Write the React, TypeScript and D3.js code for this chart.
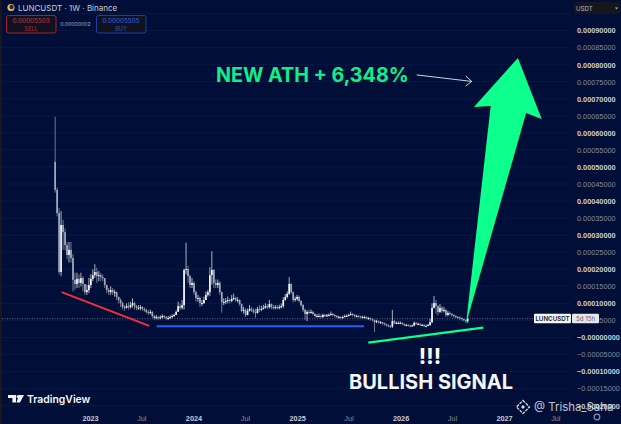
import { useEffect, useRef } from 'react'
import * as d3 from 'd3'

// all prices are in units of 0.00001 USDT
const firstWeek = '2022-08-31'
const firstOpen = 51.5

const closes = [
  43.3, 36.5, 19.2, 33.0, 30.9, 27.1, 24.2, 25.7, 23.3, 16.9,
  15.7, 17.2, 16.0, 17.4, 15.7, 13.3, 13.9, 15.4, 17.2, 18.3,
  19.2, 18.0, 18.3, 17.7, 17.4, 15.4, 13.9, 13.3, 13.9, 13.3,
  13.3, 11.9, 11.0, 10.1, 8.9, 8.7, 9.2, 8.9, 9.5, 10.1,
  9.2, 8.7, 8.7, 8.9, 8.4, 8.1, 7.5, 7.2, 7.5, 6.3,
  5.7, 6.0, 5.7, 5.9, 6.3, 6.0, 5.7, 5.7, 6.0, 6.3,
  6.6, 7.5, 9.2, 8.7, 9.5, 19.8, 20.1, 18.0, 15.4, 16.0,
  13.3, 11.6, 11.6, 10.1, 10.1, 11.0, 12.5, 13.3, 18.3, 19.8,
  16.0, 15.4, 16.0, 13.3, 10.4, 10.4, 10.7, 11.0, 10.7, 11.3,
  11.6, 11.0, 11.0, 9.8, 7.8, 8.1, 6.6, 7.8, 8.4, 8.1,
  7.5, 7.2, 8.4, 8.1, 8.4, 8.7, 9.2, 8.9, 9.8, 8.9,
  8.7, 8.9, 8.7, 8.9, 9.2, 11.0, 11.9, 12.8, 15.7, 13.3,
  11.0, 11.3, 11.9, 10.7, 9.5, 8.1, 6.9, 7.5, 7.3, 7.5,
  6.9, 6.3, 6.3, 6.3, 6.0, 6.6, 6.3, 6.5, 6.6, 6.9,
  6.6, 6.3, 6.0, 6.0, 5.7, 6.0, 6.3, 6.3, 6.6, 6.9,
  6.6, 6.3, 6.3, 6.2, 6.0, 6.0, 6.0, 5.7, 5.7, 5.4,
  5.1, 4.5, 4.8, 4.5, 4.5, 4.3, 4.0, 3.7, 3.4, 3.2,
  4.8, 4.3, 4.3, 4.3, 4.3, 4.0, 3.7, 3.7, 3.5, 3.4,
  3.5, 4.3, 4.0, 4.0, 3.7, 3.7, 3.4, 3.4, 3.7, 4.5,
  8.7, 10.1, 9.2, 7.5, 8.7, 7.8, 8.1, 6.6, 7.2, 6.9,
  6.6, 6.3, 6.0, 5.9, 5.7, 5.4, 5.1, 4.8, 5.5,
]

const highs = [
  64.7, 44, 38, 37.1, 34.5, 32, 28, 28, 28, 24.5,
  19, 19, 18.5, 19, 18, 15.5, 15.5, 17.5, 18.5, 20,
  21.5, 20.5, 19.5, 19, 18.5, 17.5, 15.5, 14.5, 15, 14.5,
  14, 13.5, 12, 11.5, 10.5, 9.5, 10, 10.3, 10.5, 11.5,
  10.5, 9.5, 9.5, 9.5, 9.2, 8.8, 8.5, 8, 8.2, 7.8,
  6.6, 6.6, 6.3, 6.5, 6.8, 6.6, 6.3, 6.3, 6.5, 6.8,
  7, 8, 10.5, 10, 11, 20.2, 27.8, 21, 18.5, 17.5,
  16.5, 13.8, 12.5, 12, 11, 12, 13.5, 14, 20.6, 25.3,
  20, 17, 17, 16.5, 13.5, 11.5, 11.5, 12, 11.5, 12.5,
  12.9, 12, 11.8, 11.2, 10, 9, 8.6, 8.5, 9.5, 9,
  8.5, 8.5, 9, 9.5, 9.3, 9.6, 10, 9.8, 11, 10,
  9.6, 9.5, 9.5, 9.6, 10, 11.8, 12.8, 13.5, 17.7, 16,
  13.5, 12, 12.5, 12.3, 11, 9.8, 8.5, 8, 8.2, 8.2,
  7.8, 7.2, 6.9, 7, 6.8, 7, 6.9, 6.9, 7.1, 7.6,
  7.2, 6.9, 6.6, 6.4, 6.2, 6.4, 6.7, 6.8, 7, 7.6,
  7.2, 6.8, 6.7, 6.5, 6.4, 6.4, 6.4, 6.2, 6, 5.8,
  5.6, 5.3, 5.2, 5, 4.8, 4.6, 4.3, 4, 3.8, 3.6,
  8.1, 5.2, 4.7, 4.7, 4.7, 4.5, 4.2, 4, 3.9, 3.8,
  3.8, 4.7, 4.5, 4.4, 4.2, 4, 3.9, 3.8, 4, 5.5,
  10, 12.2, 11, 9.5, 9.8, 9.2, 9, 8.3, 7.8, 7.6,
  7.2, 6.8, 6.5, 6.3, 6.1, 5.8, 5.6, 5.3, 6.6,
]

const lows = [
  42.5, 35.5, 18.5, 18, 25.7, 25.5, 23, 22, 22, 13.5,
  14, 14.5, 14.5, 15, 13.5, 12.5, 12.5, 13, 14.5, 16.5,
  17.5, 16, 16.5, 16.5, 16.5, 14.5, 13, 12.5, 12.5, 12.5,
  12, 11, 10, 9, 8.2, 7.8, 8.5, 8.2, 8.5, 8.8,
  8.2, 8, 8.1, 8, 7.8, 7.5, 7, 6.6, 6.8, 5.8,
  5.2, 5.3, 5.2, 5.3, 5.6, 5.5, 5.2, 5.2, 5.4, 5.7,
  6, 6.8, 8, 8, 8.2, 8.2, 18.5, 16, 14.5, 14.5,
  12.5, 10.5, 10.5, 9, 9.2, 9.8, 11, 12, 12.2, 15.5,
  14.5, 14.5, 14.5, 12.5, 7.3, 9.5, 9.8, 10, 10, 10.3,
  11, 10.5, 10.3, 9.3, 7.4, 7, 6, 6.5, 7.6, 7.5,
  7, 5.8, 7, 7.5, 7.7, 8.2, 8.5, 8.3, 8.5, 8.3,
  8.2, 8.3, 8.2, 8.3, 8.5, 8.7, 10.8, 11.5, 12.5, 12.8,
  10.3, 10.5, 10.8, 10.2, 9, 7.5, 5.2, 4.8, 6.8, 7,
  6.5, 5.9, 5.9, 5.9, 5.6, 5.8, 6, 6, 6.2, 6.4,
  6.2, 5.9, 5.6, 5.6, 5.3, 5.5, 5.9, 6, 6.2, 6.4,
  6.2, 5.9, 5.9, 5.8, 5.6, 5.6, 5.5, 5.3, 5.2, 5,
  4.8, 1.6, 4.2, 4.1, 4, 3.7, 3.4, 3.1, 3, 2.8,
  2.8, 3.9, 3.9, 3.9, 3.9, 3.6, 3.3, 3.3, 3.2, 3,
  3.2, 3.3, 3.7, 3.6, 3.4, 3.3, 3, 3, 3.3, 3.4,
  4.2, 8.5, 7, 6.5, 7.2, 7.2, 7.4, 6, 6.2, 6.4,
  6.1, 5.8, 5.6, 5.4, 5.2, 4.9, 4.7, 4.3, 4.2,
]

const priceTicks = [90, 85, 80, 75, 70, 65, 60, 55, 50, 45, 40, 35, 30, 25, 20, 15, 10, 5, 0, -5, -10, -15, -20]
const gridOnly = [95]
const timeTicks = ['2023-01-01', '2023-07-01', '2024-01-01', '2024-07-01', '2025-01-01', '2025-07-01', '2026-01-01', '2026-07-01', '2027-01-01', '2027-07-01']
const lastPrice = 5.5

// drawn annotations, as [date, price]
const redDates = ['2022-09-23', '2023-07-29']
const redPrices = [13.3, 3.4]
const blueDates = ['2023-08-24', '2025-08-25']
const bluePrices = [3.3, 3.3]
const greenDates = ['2025-09-09', '2026-10-20']
const greenPrices = [-1.5, 2.9]
const pointerDates = ['2026-02-27', '2026-09-09']
const pointerPrices = [77, 75.1]
const arrowDates = ['2026-08-20', '2026-11-15', '2026-09-17', '2027-02-19', '2027-05-14', '2027-03-20']
const arrowPrices = [4, 67.9, 67.6, 82, 64.1, 65.8]

const FONT = 'Inter, "Liberation Sans", sans-serif'
const AXIS_FONT = '"Liberation Sans", sans-serif'
const BG = '#010f38'
const GREEN = '#0dff8c'

function day(s: string) {
  return d3.isoParse(s + 'T00:00:00Z') as Date
}

export default function App() {
  const svgRef = useRef<SVGSVGElement>(null)

  useEffect(() => {
    if (!svgRef.current) return
    const svg = d3.select(svgRef.current)
    svg.selectAll('*').remove()

    const width = 621
    const height = 424

    svg.append('rect').attr('width', width).attr('height', height).attr('fill', BG)
    svg.append('rect').attr('width', 2).attr('height', height).attr('fill', '#17181d')

    const x = d3.scaleUtc().domain([day('2023-01-01'), day('2027-01-01')]).range([90, 504])
    const y = d3.scaleLinear().domain([90, 0]).range([30.6, 337.5])

    const text = (px: number, py: number, s: string, size: number, fill: string, weight = 400, anchor = 'start') =>
      svg.append('text')
        .attr('x', px)
        .attr('y', py)
        .attr('fill', fill)
        .attr('text-anchor', anchor)
        .style('font-family', FONT)
        .style('font-size', size + 'px')
        .style('font-weight', weight)
        .text(s)

    // grid
    svg.append('g')
      .selectAll('line')
      .data([...gridOnly, ...priceTicks])
      .join('line')
      .attr('x1', 2)
      .attr('x2', 571)
      .attr('y1', d => y(d))
      .attr('y2', d => y(d))
      .attr('stroke', '#0b1a45')
      .attr('stroke-width', 0.8)

    // right price axis
    const fmt = (v: number) => (v <= 0 ? '\u2212' : '') + (Math.abs(v) / 1e5).toFixed(8)
    svg.append('g')
      .attr('transform', 'translate(571,0)')
      .call(d3.axisRight(y).tickValues(priceTicks).tickSize(0).tickPadding(6).tickFormat(d => fmt(d as number)))
      .call(g => g.select('.domain').remove())
      .call(g => g.selectAll<SVGTextElement, number>('.tick text')
        .attr('fill', d => (d % 10 === 0 ? '#c9ccd6' : '#858b9e'))
        .style('font-family', AXIS_FONT)
        .style('font-size', '7.3px')
        .style('font-weight', d => (d % 10 === 0 ? 700 : 400)))

    // bottom time axis
    svg.append('g')
      .attr('transform', 'translate(0,413)')
      .call(d3.axisBottom(x).tickValues(timeTicks.map(day)).tickSize(0).tickPadding(3)
        .tickFormat(d => {
          const date = d as Date
          return date.getUTCMonth() === 0 ? String(date.getUTCFullYear()) : 'Jul'
        }))
      .call(g => g.select('.domain').remove())
      .call(g => g.selectAll<SVGTextElement, Date>('.tick text')
        .attr('fill', d => (d.getUTCMonth() === 0 ? '#c9ccd6' : '#858b9e'))
        .style('font-family', AXIS_FONT)
        .style('font-size', '7.3px')
        .style('font-weight', d => (d.getUTCMonth() === 0 ? 700 : 400)))

    // last price line
    svg.append('line')
      .attr('x1', 2)
      .attr('x2', 534)
      .attr('y1', y(lastPrice))
      .attr('y2', y(lastPrice))
      .attr('stroke', '#7d8496')
      .attr('stroke-width', 0.8)
      .attr('stroke-dasharray', '1 1.5')

    // candles
    const candles = closes.map((c, i) => ({
      date: d3.utcDay.offset(day(firstWeek), 7 * i),
      open: i === 0 ? firstOpen : closes[i - 1],
      close: c,
      high: highs[i],
      low: lows[i],
    }))
    const candle = svg.append('g').selectAll('g').data(candles).join('g')
    candle.append('line')
      .attr('x1', d => x(d.date))
      .attr('x2', d => x(d.date))
      .attr('y1', d => y(d.high))
      .attr('y2', d => y(d.low))
      .attr('stroke', d => (d.close >= d.open ? '#d5d9e2' : '#8d94a6'))
      .attr('stroke-width', 0.8)
    candle.append('rect')
      .attr('x', d => x(d.date) - 0.85)
      .attr('width', 1.7)
      .attr('y', d => y(Math.max(d.open, d.close)))
      .attr('height', d => Math.max(1, Math.abs(y(d.open) - y(d.close))))
      .attr('fill', d => (d.close >= d.open ? '#f4f6fa' : '#a3a9b9'))

    // trend lines
    const seg = (dates: string[], prices: number[], color: string, w: number) =>
      svg.append('line')
        .attr('x1', x(day(dates[0])))
        .attr('y1', y(prices[0]))
        .attr('x2', x(day(dates[1])))
        .attr('y2', y(prices[1]))
        .attr('stroke', color)
        .attr('stroke-width', w)
    seg(redDates, redPrices, '#f0323f', 2)
    seg(blueDates, bluePrices, '#2563f0', 2.2)
    seg(greenDates, greenPrices, GREEN, 2.2)

    // big arrow
    svg.append('path')
      .attr('d', d3.line<string>()
        .x(d => x(day(d)))
        .y((_, i) => y(arrowPrices[i]))
        .curve(d3.curveLinearClosed)(arrowDates))
      .attr('fill', GREEN)

    // thin pointer
    seg(pointerDates, pointerPrices, '#e6e8ee', 0.9)
    const px = x(day(pointerDates[1]))
    const py = y(pointerPrices[1])
    svg.append('polyline')
      .attr('points', `${px - 6},${py - 5.5} ${px},${py} ${px - 6},${py + 4.5}`)
      .attr('fill', 'none')
      .attr('stroke', '#e6e8ee')
      .attr('stroke-width', 0.9)

    text(216, 82, 'NEW ATH + 6,348%', 19.7, '#10ee8a', 700)
    text(430, 364, '!!!', 22, '#ffffff', 700, 'middle')
    text(349, 389, 'BULLISH SIGNAL', 20, '#f4f6fa', 700)

    // header
    svg.append('circle').attr('cx', 11).attr('cy', 7.5).attr('r', 3.6).attr('fill', '#f2c230')
    svg.append('circle').attr('cx', 11.6).attr('cy', 7).attr('r', 2.2).attr('fill', '#1a2a6a')
    text(18, 11, 'LUNCUSDT \u00b7 1W \u00b7 Binance', 8, '#c9ccd6')

    svg.append('rect').attr('x', 6.5).attr('y', 15.5).attr('width', 49.5).attr('height', 17.5).attr('rx', 2)
      .attr('fill', '#10131f').attr('stroke', '#a81f2c').attr('stroke-width', 1)
    text(31, 23, '0.00005503', 6.2, '#c22b38', 500, 'middle')
    text(31, 30.5, 'SELL', 5.6, '#a8232f', 500, 'middle')
    text(75.5, 26, '0.00000002', 5.2, '#a7abb8', 400, 'middle')
    svg.append('rect').attr('x', 96.5).attr('y', 15.5).attr('width', 49.5).attr('height', 17.5).attr('rx', 2)
      .attr('fill', '#10131f').attr('stroke', '#1c3ea6').attr('stroke-width', 1)
    text(121, 23, '0.00005505', 6.2, '#2b5bdc', 500, 'middle')
    text(121, 30.5, 'BUY', 5.6, '#2448ac', 500, 'middle')

    // currency switch
    svg.append('rect').attr('x', 574).attr('y', 2).attr('width', 46).attr('height', 12).attr('rx', 2)
      .attr('fill', '#15171f')
    text(576, 10.5, 'USDT', 6.2, '#b5b8c2')
    svg.append('path').attr('d', 'M615 7.5h3l-1.5 2z').attr('fill', '#b5b8c2')

    // price label
    const labelY = y(lastPrice) - 5
    svg.append('rect').attr('x', 534).attr('y', labelY).attr('width', 37).attr('height', 9.5).attr('rx', 1).attr('fill', '#f4f5f8')
    svg.append('rect').attr('x', 572).attr('y', labelY).attr('width', 27).attr('height', 9.5).attr('rx', 1).attr('fill', '#e4e6ea')
    text(552.5, labelY + 7, 'LUNCUSDT', 6.2, '#15171f', 600, 'middle')
    text(585.5, labelY + 7, '5d 15h', 6.2, '#5d6270', 400, 'middle')

    // logo
    svg.append('path').attr('d', 'M8 395h8v7.5h-3.6v-4.4H8z M19 395h5l-4 7.5h-3.6z').attr('fill', '#f1f2f5')
    svg.append('circle').attr('cx', 18).attr('cy', 396.5).attr('r', 1.5).attr('fill', '#f1f2f5')
    text(27, 403, 'TradingView', 10.4, '#f6f7f9', 600)

    // watermark
    const w = svg.append('g').attr('transform', 'translate(523,407)')
      .attr('fill', 'none').attr('stroke', '#d8dbe2').attr('stroke-width', 1.3)
    w.append('path').attr('d', 'M0 -6.5L6.5 0L0 6.5L-6.5 0Z').attr('stroke-dasharray', '3 1')
    w.append('path').attr('d', 'M0 -2L2 0L0 2L-2 0Z').attr('fill', '#d8dbe2').attr('stroke', 'none')
    text(534, 411, '@ Trisha_Saha', 11.4, '#d8dbe2', 400).attr('opacity', 0.9)

    // settings gear
    svg.append('circle').attr('cx', 597).attr('cy', 417).attr('r', 2.8)
      .attr('fill', 'none').attr('stroke', '#8a90a2').attr('stroke-width', 1.2)
  }, [])

  return (
    <svg ref={svgRef} width={621} height={424} style={{ position: 'fixed', left: 0, top: 0, display: 'block' }}></svg>
  )
}
